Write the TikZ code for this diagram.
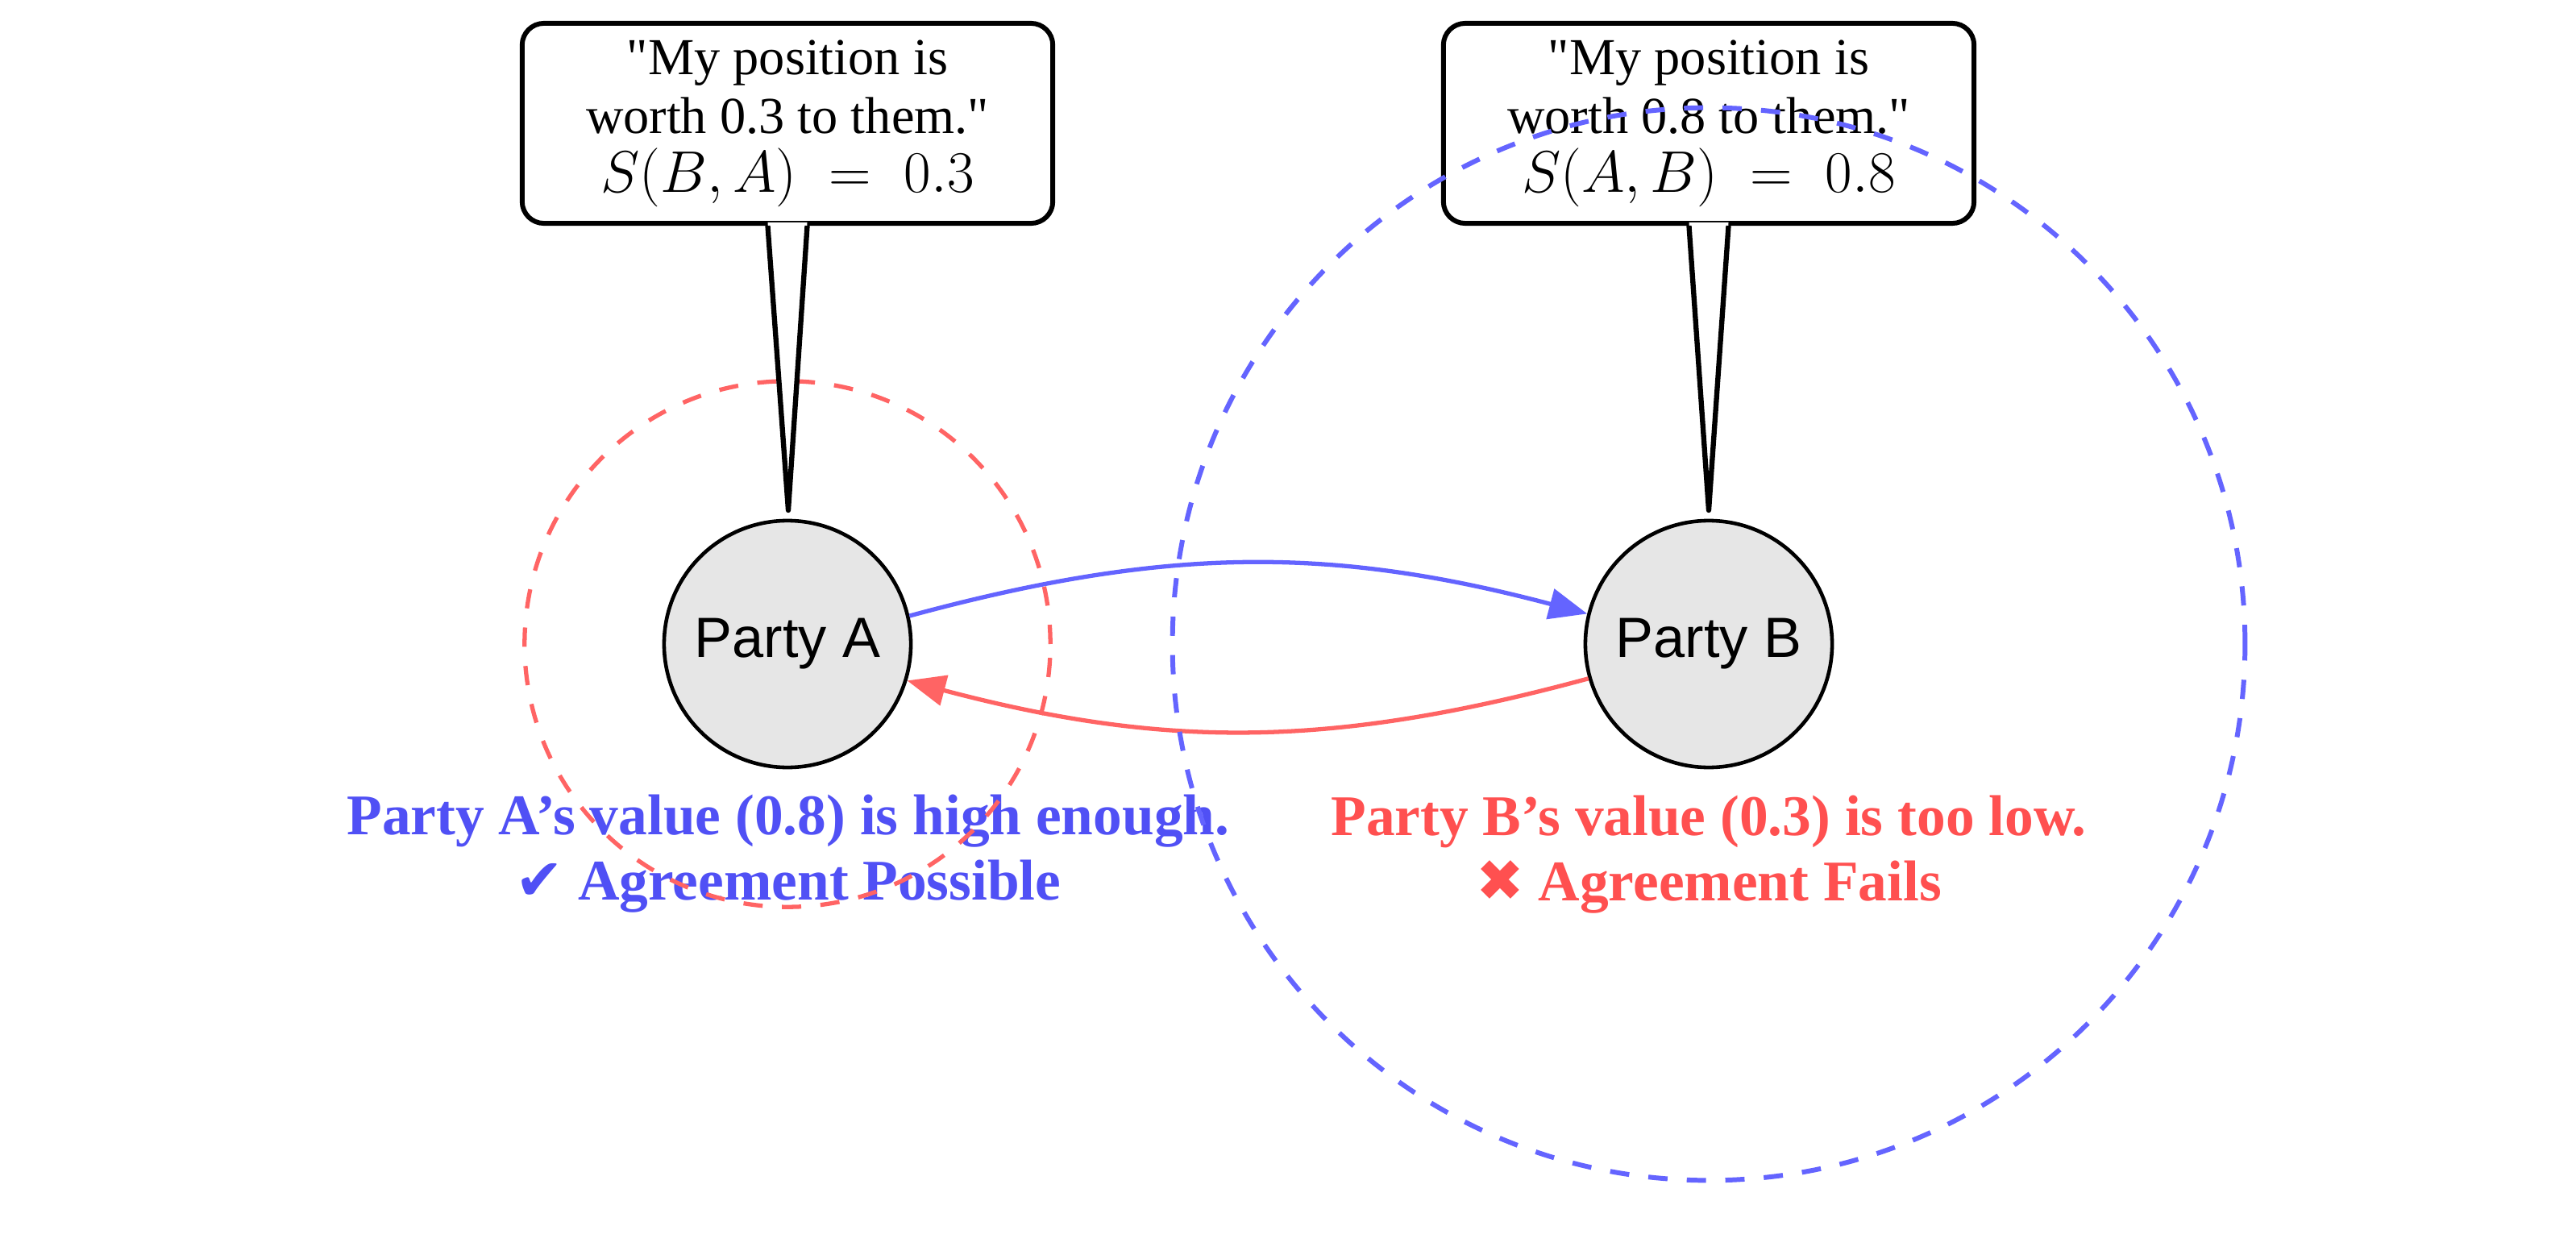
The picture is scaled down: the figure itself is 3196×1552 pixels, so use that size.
\documentclass[tikz,border=0pt]{standalone}
\usepackage[no-math]{fontspec}
\setmainfont{Liberation Serif}[Ligatures=TeXOff]
\newfontfamily\lsans{Liberation Sans}
\newfontfamily\djv{DejaVu Sans}
\usetikzlibrary{arrows.meta}
\definecolor{cblue}{RGB}{100,100,255}
\definecolor{cred}{RGB}{255,100,100}
\definecolor{tblue}{RGB}{80,80,245}
\definecolor{tred}{RGB}{255,80,80}
\definecolor{nodegray}{RGB}{230,230,230}
\newcommand{\mathline}[1]{{\fontsize{20}{20.8}\selectfont $#1$}}
\tikzset{
  party/.style={circle, draw=black, line width=1.3pt, fill=nodegray, minimum size=3.06cm, inner sep=0pt, font=\lsans\fontsize{20}{24}\selectfont},
  qbox/.style={draw=black, line width=1.7pt, rounded corners=0.27cm, fill=white, minimum width=6.58cm, minimum height=2.48cm, inner sep=0pt, align=center, font=\fontsize{18.3}{20.8}\selectfont},
  ptr/.style={draw=black, line width=1.8pt, line join=round},
  barrow/.style={draw=cblue, line width=1.5pt, -{Triangle[length=13.5pt,width=10.8pt]}},
  rarrow/.style={draw=cred, line width=1.5pt, -{Triangle[length=13.5pt,width=10.8pt]}},
  ring/.style={dash pattern=on 6.8pt off 6.8pt},
  lbl/.style={font=\bfseries\fontsize{20.3}{24}\selectfont, inner sep=0pt}
}
\begin{document}
\begin{tikzpicture}[x=0.01cm,y=-0.01cm]
\useasboundingbox[fill=white] (0,0) rectangle (3196,1552);
% labels
\node[lbl, text=tblue] (la1) at (978,1019) {Party A’s value (0.8) is high enough.};
\node[lbl, text=tblue] (la2) at (978,1100) {{\djv\mdseries ✔} Agreement Possible};
\node[lbl, text=tred] (lb1) at (2120,1019) {Party B’s value (0.3) is too low.};
\node[lbl, text=tred] (lb2) at (2120,1100) {{\djv\mdseries ✖} Agreement Fails};
% nodes
\node[party] (A) at (977,799) {Party A};
\node[party] (B) at (2120,799) {Party B};
% arrows
\draw[barrow] (A.13) to[bend left=15] (B.166);
\draw[rarrow] (B.196) to[bend left=15] (A.-17);
% red ring
\draw[ring, draw=cred, line width=1.5pt] (A.center) circle (3.26cm);
% callouts
\node[qbox] (qa) at (977,153) {"My position is\\worth 0.3 to them."\\\mathline{S(B,A)\;=\;0.3}};
\coordinate (ta) at (978,633);
\fill[white] ([xshift=-0.245cm,yshift=1.2pt]qa.south) -- (ta) -- ([xshift=0.245cm,yshift=1.2pt]qa.south) -- cycle;
\draw[ptr] ([xshift=-0.245cm]qa.south) -- (ta) -- ([xshift=0.245cm]qa.south);
\node[qbox] (qb) at (2120,153) {"My position is\\worth 0.8 to them."\\\mathline{S(A,B)\;=\;0.8}};
\coordinate (tb) at (2120,633);
\fill[white] ([xshift=-0.245cm,yshift=1.2pt]qb.south) -- (tb) -- ([xshift=0.245cm,yshift=1.2pt]qb.south) -- cycle;
\draw[ptr] ([xshift=-0.245cm]qb.south) -- (tb) -- ([xshift=0.245cm]qb.south);
% blue ring
\draw[ring, draw=cblue, line width=1.7pt] (B.center) circle (6.65cm);
\end{tikzpicture}
\end{document}
